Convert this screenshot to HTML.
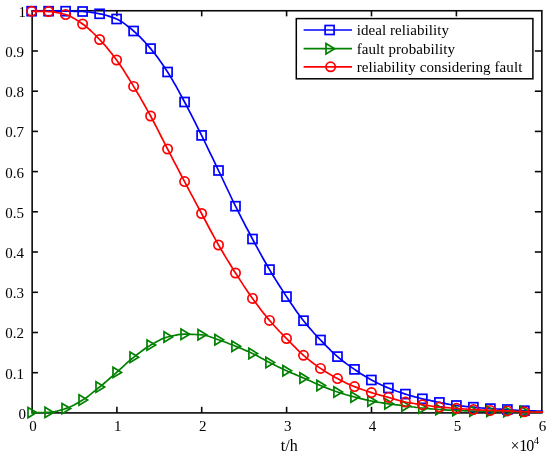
<!DOCTYPE html>
<html><head><meta charset="utf-8"><title>reliability</title>
<style>
html,body{margin:0;padding:0;background:#fff;}
svg{display:block;}
text{font-family:"Liberation Serif","Times New Roman",serif;fill:#000;}
.tk{font-size:15px;}
.lb{font-size:16px;}
</style></head><body>
<svg width="550" height="456" viewBox="0 0 550 456">
<rect x="0" y="0" width="550" height="456" fill="#fff"/>

<g stroke="#0a0a0a" stroke-width="1.6" fill="none" stroke-linecap="butt">
<rect x="32.15" y="10.75" width="509.70" height="402.15"/>
<path d="M116.9,412.9 V406.79999999999995"/><path d="M116.9,10.75 V16.35"/>
<path d="M201.7,412.9 V406.79999999999995"/><path d="M201.7,10.75 V16.35"/>
<path d="M286.6,412.9 V406.79999999999995"/><path d="M286.6,10.75 V16.35"/>
<path d="M371.5,412.9 V406.79999999999995"/><path d="M371.5,10.75 V16.35"/>
<path d="M456.4,412.9 V406.79999999999995"/><path d="M456.4,10.75 V16.35"/>
<path d="M32.15,372.7 H37.949999999999996"/><path d="M541.85,372.7 H534.85"/>
<path d="M32.15,332.5 H37.949999999999996"/><path d="M541.85,332.5 H534.85"/>
<path d="M32.15,292.3 H37.949999999999996"/><path d="M541.85,292.3 H534.85"/>
<path d="M32.15,252.0 H37.949999999999996"/><path d="M541.85,252.0 H534.85"/>
<path d="M32.15,211.8 H37.949999999999996"/><path d="M541.85,211.8 H534.85"/>
<path d="M32.15,171.6 H37.949999999999996"/><path d="M541.85,171.6 H534.85"/>
<path d="M32.15,131.4 H37.949999999999996"/><path d="M541.85,131.4 H534.85"/>
<path d="M32.15,91.2 H37.949999999999996"/><path d="M541.85,91.2 H534.85"/>
<path d="M32.15,51.0 H37.949999999999996"/><path d="M541.85,51.0 H534.85"/>
</g>
<text class="tk" x="32.9" y="430.6" text-anchor="middle">0</text>
<text class="tk" x="117.8" y="430.6" text-anchor="middle">1</text>
<text class="tk" x="202.8" y="430.6" text-anchor="middle">2</text>
<text class="tk" x="287.7" y="430.6" text-anchor="middle">3</text>
<text class="tk" x="372.6" y="430.6" text-anchor="middle">4</text>
<text class="tk" x="457.6" y="430.6" text-anchor="middle">5</text>
<text class="tk" x="542.6" y="430.6" text-anchor="middle">6</text>
<text class="tk" x="25.9" y="418.8" text-anchor="end">0</text>
<text class="tk" x="24" y="378.6" text-anchor="end">0.1</text>
<text class="tk" x="24" y="338.4" text-anchor="end">0.2</text>
<text class="tk" x="24" y="298.2" text-anchor="end">0.3</text>
<text class="tk" x="24" y="257.9" text-anchor="end">0.4</text>
<text class="tk" x="24" y="217.7" text-anchor="end">0.5</text>
<text class="tk" x="24" y="177.5" text-anchor="end">0.6</text>
<text class="tk" x="24" y="137.3" text-anchor="end">0.7</text>
<text class="tk" x="24" y="97.1" text-anchor="end">0.8</text>
<text class="tk" x="24" y="56.9" text-anchor="end">0.9</text>
<text class="tk" x="25.9" y="16.6" text-anchor="end">1</text>
<text class="lb" x="289.2" y="450.6" text-anchor="middle">t/h</text>
<text class="lb" x="510.5" y="450.6">×</text><text class="lb" x="519.3" y="450.6" textLength="15" lengthAdjust="spacing">10</text>
<text x="533.8" y="444.3" font-size="10.5px">4</text>
<g stroke="#0000ff" stroke-width="1.7" fill="none" stroke-linejoin="miter">
<path d="M31.6,11.2 L33.8,11.2 L35.9,11.2 L38.0,11.2 L40.1,11.2 L42.3,11.2 L44.4,11.2 L46.5,11.2 L48.6,11.2 L50.8,11.2 L52.9,11.2 L55.0,11.2 L57.1,11.2 L59.3,11.2 L61.4,11.2 L63.5,11.2 L65.6,11.2 L67.8,11.2 L69.9,11.2 L72.0,11.2 L74.1,11.3 L76.2,11.3 L78.4,11.4 L80.5,11.4 L82.6,11.5 L84.7,11.6 L86.9,11.8 L89.0,12.0 L91.1,12.3 L93.2,12.7 L95.4,13.0 L97.5,13.4 L99.6,13.8 L101.7,14.2 L103.9,14.7 L106.0,15.3 L108.1,15.9 L110.2,16.6 L112.4,17.3 L114.5,18.1 L116.6,19.0 L118.7,20.0 L120.8,21.2 L123.0,22.6 L125.1,24.1 L127.2,25.8 L129.3,27.5 L131.5,29.2 L133.6,31.0 L135.7,32.8 L137.8,34.8 L140.0,36.9 L142.1,39.1 L144.2,41.3 L146.3,43.7 L148.5,46.1 L150.6,48.6 L152.7,51.2 L154.8,53.8 L157.0,56.6 L159.1,59.5 L161.2,62.5 L163.3,65.6 L165.4,68.8 L167.6,72.0 L169.7,75.4 L171.8,78.9 L173.9,82.6 L176.1,86.3 L178.2,90.2 L180.3,94.1 L182.4,98.0 L184.6,102.0 L186.7,106.0 L188.8,110.1 L190.9,114.2 L193.1,118.4 L195.2,122.6 L197.3,126.8 L199.4,131.1 L201.6,135.4 L203.7,139.7 L205.8,144.0 L207.9,148.4 L210.0,152.8 L212.2,157.2 L214.3,161.6 L216.4,166.1 L218.5,170.5 L220.7,175.0 L222.8,179.5 L224.9,184.0 L227.0,188.5 L229.2,193.0 L231.3,197.5 L233.4,201.9 L235.5,206.2 L237.7,210.4 L239.8,214.6 L241.9,218.8 L244.0,222.9 L246.1,227.0 L248.3,231.0 L250.4,235.0 L252.5,239.0 L254.6,243.0 L256.8,246.9 L258.9,250.8 L261.0,254.7 L263.1,258.5 L265.3,262.3 L267.4,266.0 L269.5,269.6 L271.6,273.2 L273.8,276.7 L275.9,280.1 L278.0,283.5 L280.1,286.8 L282.3,290.1 L284.4,293.4 L286.5,296.6 L288.6,299.8 L290.7,302.9 L292.9,306.1 L295.0,309.2 L297.1,312.2 L299.2,315.1 L301.4,318.0 L303.5,320.7 L305.6,323.3 L307.7,325.9 L309.9,328.4 L312.0,330.8 L314.1,333.2 L316.2,335.5 L318.4,337.8 L320.5,340.0 L322.6,342.2 L324.7,344.4 L326.9,346.6 L329.0,348.7 L331.1,350.8 L333.2,352.8 L335.3,354.7 L337.5,356.6 L339.6,358.4 L341.7,360.1 L343.8,361.7 L346.0,363.4 L348.1,364.9 L350.2,366.4 L352.3,367.9 L354.5,369.4 L356.6,370.8 L358.7,372.3 L360.8,373.7 L363.0,375.0 L365.1,376.3 L367.2,377.6 L369.3,378.8 L371.4,380.0 L373.6,381.1 L375.7,382.2 L377.8,383.3 L379.9,384.3 L382.1,385.3 L384.2,386.2 L386.3,387.1 L388.4,388.0 L390.6,388.9 L392.7,389.7 L394.8,390.5 L396.9,391.3 L399.1,392.0 L401.2,392.7 L403.3,393.4 L405.4,394.1 L407.6,394.8 L409.7,395.4 L411.8,396.0 L413.9,396.6 L416.0,397.2 L418.2,397.7 L420.3,398.3 L422.4,398.8 L424.5,399.3 L426.7,399.8 L428.8,400.2 L430.9,400.7 L433.0,401.1 L435.2,401.6 L437.3,402.0 L439.4,402.4 L441.5,402.8 L443.7,403.2 L445.8,403.7 L447.9,404.1 L450.0,404.5 L452.2,404.9 L454.3,405.2 L456.4,405.5 L458.5,405.8 L460.6,406.0 L462.8,406.2 L464.9,406.4 L467.0,406.6 L469.1,406.8 L471.3,407.0 L473.4,407.2 L475.5,407.4 L477.6,407.6 L479.8,407.8 L481.9,408.0 L484.0,408.1 L486.1,408.3 L488.3,408.5 L490.4,408.6 L492.5,408.7 L494.6,408.8 L496.8,409.0 L498.9,409.1 L501.0,409.2 L503.1,409.3 L505.2,409.4 L507.4,409.5 L509.5,409.6 L511.6,409.8 L513.7,410.0 L515.9,410.2 L518.0,410.3 L520.1,410.5 L522.2,410.6 L524.4,410.7 L526.5,410.8 L528.6,410.8 L530.7,410.9 L532.9,410.9 L535.0,410.9 L537.1,411.0 L539.2,411.0 L541.4,411.0 L543.1,411.0" stroke-linejoin="round"/>
<rect x="27.1" y="6.7" width="9.0" height="9.0"/>
<rect x="44.1" y="6.7" width="9.0" height="9.0"/>
<rect x="61.1" y="6.7" width="9.0" height="9.0"/>
<rect x="78.1" y="7.0" width="9.0" height="9.0"/>
<rect x="95.1" y="9.3" width="9.0" height="9.0"/>
<rect x="112.1" y="14.5" width="9.0" height="9.0"/>
<rect x="129.1" y="26.5" width="9.0" height="9.0"/>
<rect x="146.1" y="44.1" width="9.0" height="9.0"/>
<rect x="163.1" y="67.5" width="9.0" height="9.0"/>
<rect x="180.1" y="97.5" width="9.0" height="9.0"/>
<rect x="197.1" y="130.9" width="9.0" height="9.0"/>
<rect x="214.0" y="166.0" width="9.0" height="9.0"/>
<rect x="231.0" y="201.7" width="9.0" height="9.0"/>
<rect x="248.0" y="234.5" width="9.0" height="9.0"/>
<rect x="265.0" y="265.1" width="9.0" height="9.0"/>
<rect x="282.0" y="292.1" width="9.0" height="9.0"/>
<rect x="299.0" y="316.2" width="9.0" height="9.0"/>
<rect x="316.0" y="335.5" width="9.0" height="9.0"/>
<rect x="333.0" y="352.1" width="9.0" height="9.0"/>
<rect x="350.0" y="364.9" width="9.0" height="9.0"/>
<rect x="366.9" y="375.5" width="9.0" height="9.0"/>
<rect x="383.9" y="383.5" width="9.0" height="9.0"/>
<rect x="400.9" y="389.6" width="9.0" height="9.0"/>
<rect x="417.9" y="394.3" width="9.0" height="9.0"/>
<rect x="434.9" y="397.9" width="9.0" height="9.0"/>
<rect x="451.9" y="401.0" width="9.0" height="9.0"/>
<rect x="468.9" y="402.7" width="9.0" height="9.0"/>
<rect x="485.9" y="404.1" width="9.0" height="9.0"/>
<rect x="502.9" y="405.0" width="9.0" height="9.0"/>
<rect x="519.9" y="406.2" width="9.0" height="9.0"/>
</g>
<g stroke="#008000" stroke-width="1.7" fill="none" stroke-linejoin="miter">
<path d="M31.6,412.6 L33.8,412.6 L35.9,412.6 L38.0,412.6 L40.1,412.5 L42.3,412.5 L44.4,412.5 L46.5,412.4 L48.6,412.4 L50.8,412.3 L52.9,412.0 L55.0,411.6 L57.1,411.1 L59.3,410.5 L61.4,409.9 L63.5,409.3 L65.6,408.6 L67.8,407.9 L69.9,407.0 L72.0,406.0 L74.1,404.9 L76.2,403.8 L78.4,402.6 L80.5,401.3 L82.6,400.0 L84.7,398.6 L86.9,397.2 L89.0,395.6 L91.1,393.9 L93.2,392.2 L95.4,390.5 L97.5,388.7 L99.6,387.0 L101.7,385.3 L103.9,383.5 L106.0,381.7 L108.1,379.8 L110.2,378.0 L112.4,376.1 L114.5,374.3 L116.6,372.4 L118.7,370.5 L120.8,368.6 L123.0,366.6 L125.1,364.7 L127.2,362.7 L129.3,360.9 L131.5,359.0 L133.6,357.3 L135.7,355.6 L137.8,354.0 L140.0,352.3 L142.1,350.7 L144.2,349.2 L146.3,347.7 L148.5,346.4 L150.6,345.1 L152.7,343.9 L154.8,342.7 L157.0,341.5 L159.1,340.4 L161.2,339.3 L163.3,338.4 L165.4,337.6 L167.6,337.0 L169.7,336.5 L171.8,336.0 L173.9,335.5 L176.1,335.1 L178.2,334.7 L180.3,334.4 L182.4,334.3 L184.6,334.2 L186.7,334.2 L188.8,334.2 L190.9,334.3 L193.1,334.4 L195.2,334.5 L197.3,334.6 L199.4,334.7 L201.6,334.8 L203.7,335.0 L205.8,335.5 L207.9,336.0 L210.0,336.7 L212.2,337.5 L214.3,338.3 L216.4,339.1 L218.5,339.8 L220.7,340.5 L222.8,341.3 L224.9,342.0 L227.0,342.8 L229.2,343.7 L231.3,344.5 L233.4,345.3 L235.5,346.2 L237.7,347.1 L239.8,347.9 L241.9,348.8 L244.0,349.7 L246.1,350.6 L248.3,351.5 L250.4,352.5 L252.5,353.5 L254.6,354.5 L256.8,355.6 L258.9,356.8 L261.0,357.9 L263.1,359.1 L265.3,360.3 L267.4,361.4 L269.5,362.5 L271.6,363.6 L273.8,364.6 L275.9,365.7 L278.0,366.7 L280.1,367.7 L282.3,368.7 L284.4,369.7 L286.5,370.7 L288.6,371.7 L290.7,372.6 L292.9,373.5 L295.0,374.4 L297.1,375.3 L299.2,376.2 L301.4,377.1 L303.5,378.0 L305.6,378.9 L307.7,379.9 L309.9,380.8 L312.0,381.8 L314.1,382.8 L316.2,383.7 L318.4,384.6 L320.5,385.5 L322.6,386.4 L324.7,387.2 L326.9,388.1 L329.0,388.9 L331.1,389.7 L333.2,390.5 L335.3,391.3 L337.5,392.0 L339.6,392.7 L341.7,393.4 L343.8,394.0 L346.0,394.7 L348.1,395.3 L350.2,395.9 L352.3,396.4 L354.5,397.0 L356.6,397.6 L358.7,398.1 L360.8,398.6 L363.0,399.1 L365.1,399.6 L367.2,400.1 L369.3,400.6 L371.4,401.0 L373.6,401.4 L375.7,401.8 L377.8,402.2 L379.9,402.5 L382.1,402.8 L384.2,403.2 L386.3,403.5 L388.4,403.8 L390.6,404.1 L392.7,404.4 L394.8,404.7 L396.9,404.9 L399.1,405.2 L401.2,405.5 L403.3,405.7 L405.4,406.0 L407.6,406.3 L409.7,406.5 L411.8,406.8 L413.9,407.0 L416.0,407.3 L418.2,407.5 L420.3,407.8 L422.4,408.0 L424.5,408.2 L426.7,408.4 L428.8,408.6 L430.9,408.8 L433.0,409.0 L435.2,409.2 L437.3,409.3 L439.4,409.5 L441.5,409.6 L443.7,409.8 L445.8,409.9 L447.9,410.1 L450.0,410.2 L452.2,410.3 L454.3,410.4 L456.4,410.5 L458.5,410.6 L460.6,410.7 L462.8,410.7 L464.9,410.8 L467.0,410.8 L469.1,410.9 L471.3,411.0 L473.4,411.0 L475.5,411.0 L477.6,411.1 L479.8,411.1 L481.9,411.2 L484.0,411.2 L486.1,411.2 L488.3,411.3 L490.4,411.3 L492.5,411.3 L494.6,411.4 L496.8,411.4 L498.9,411.4 L501.0,411.4 L503.1,411.5 L505.2,411.5 L507.4,411.5 L509.5,411.5 L511.6,411.5 L513.7,411.6 L515.9,411.6 L518.0,411.6 L520.1,411.6 L522.2,411.7 L524.4,411.7 L526.5,411.7 L528.6,411.8 L530.7,411.8 L532.9,411.9 L535.0,412.0 L537.1,412.0 L539.2,412.1 L541.4,412.2 L543.1,412.2" stroke-linejoin="round"/>
<path d="M28.0,407.4 L36.6,412.6 L28.0,417.8 Z"/>
<path d="M45.0,407.2 L53.6,412.4 L45.0,417.6 Z"/>
<path d="M62.0,403.4 L70.6,408.6 L62.0,413.8 Z"/>
<path d="M79.0,394.8 L87.6,400.0 L79.0,405.2 Z"/>
<path d="M96.0,381.8 L104.6,387.0 L96.0,392.2 Z"/>
<path d="M113.0,367.2 L121.6,372.4 L113.0,377.6 Z"/>
<path d="M130.0,352.1 L138.6,357.3 L130.0,362.5 Z"/>
<path d="M147.0,339.9 L155.6,345.1 L147.0,350.3 Z"/>
<path d="M164.0,331.8 L172.6,337.0 L164.0,342.2 Z"/>
<path d="M181.0,329.0 L189.6,334.2 L181.0,339.4 Z"/>
<path d="M198.0,329.6 L206.6,334.8 L198.0,340.0 Z"/>
<path d="M214.9,334.6 L223.5,339.8 L214.9,345.0 Z"/>
<path d="M231.9,341.0 L240.5,346.2 L231.9,351.4 Z"/>
<path d="M248.9,348.3 L257.5,353.5 L248.9,358.7 Z"/>
<path d="M265.9,357.3 L274.5,362.5 L265.9,367.7 Z"/>
<path d="M282.9,365.5 L291.5,370.7 L282.9,375.9 Z"/>
<path d="M299.9,372.8 L308.5,378.0 L299.9,383.2 Z"/>
<path d="M316.9,380.3 L325.5,385.5 L316.9,390.7 Z"/>
<path d="M333.9,386.8 L342.5,392.0 L333.9,397.2 Z"/>
<path d="M350.9,391.8 L359.5,397.0 L350.9,402.2 Z"/>
<path d="M367.8,395.8 L376.4,401.0 L367.8,406.2 Z"/>
<path d="M384.8,398.6 L393.4,403.8 L384.8,409.0 Z"/>
<path d="M401.8,400.8 L410.4,406.0 L401.8,411.2 Z"/>
<path d="M418.8,402.8 L427.4,408.0 L418.8,413.2 Z"/>
<path d="M435.8,404.3 L444.4,409.5 L435.8,414.7 Z"/>
<path d="M452.8,405.3 L461.4,410.5 L452.8,415.7 Z"/>
<path d="M469.8,405.8 L478.4,411.0 L469.8,416.2 Z"/>
<path d="M486.8,406.1 L495.4,411.3 L486.8,416.5 Z"/>
<path d="M503.8,406.3 L512.4,411.5 L503.8,416.7 Z"/>
<path d="M520.8,406.5 L529.4,411.7 L520.8,416.9 Z"/>
</g>
<g stroke="#ff0000" stroke-width="1.7" fill="none" stroke-linejoin="miter">
<path d="M31.6,11.3 L33.8,11.3 L35.9,11.3 L38.0,11.3 L40.1,11.4 L42.3,11.4 L44.4,11.5 L46.5,11.5 L48.6,11.6 L50.8,11.7 L52.9,11.9 L55.0,12.2 L57.1,12.6 L59.3,13.0 L61.4,13.5 L63.5,14.0 L65.6,14.6 L67.8,15.3 L69.9,16.2 L72.0,17.2 L74.1,18.4 L76.2,19.7 L78.4,21.1 L80.5,22.5 L82.6,24.0 L84.7,25.5 L86.9,27.2 L89.0,29.1 L91.1,31.0 L93.2,33.0 L95.4,35.1 L97.5,37.3 L99.6,39.5 L101.7,41.8 L103.9,44.1 L106.0,46.5 L108.1,49.1 L110.2,51.7 L112.4,54.4 L114.5,57.2 L116.6,60.0 L118.7,63.0 L120.8,66.1 L123.0,69.3 L125.1,72.6 L127.2,76.0 L129.3,79.4 L131.5,82.9 L133.6,86.4 L135.7,89.9 L137.8,93.5 L140.0,97.1 L142.1,100.8 L144.2,104.5 L146.3,108.3 L148.5,112.1 L150.6,116.0 L152.7,120.0 L154.8,124.0 L157.0,128.1 L159.1,132.3 L161.2,136.5 L163.3,140.7 L165.4,144.9 L167.6,149.0 L169.7,153.1 L171.8,157.2 L173.9,161.3 L176.1,165.4 L178.2,169.4 L180.3,173.5 L182.4,177.6 L184.6,181.6 L186.7,185.6 L188.8,189.6 L190.9,193.6 L193.1,197.6 L195.2,201.6 L197.3,205.6 L199.4,209.5 L201.6,213.5 L203.7,217.5 L205.8,221.5 L207.9,225.5 L210.0,229.5 L212.2,233.5 L214.3,237.4 L216.4,241.2 L218.5,245.0 L220.7,248.7 L222.8,252.3 L224.9,255.9 L227.0,259.4 L229.2,262.8 L231.3,266.3 L233.4,269.7 L235.5,273.0 L237.7,276.3 L239.8,279.6 L241.9,282.9 L244.0,286.1 L246.1,289.3 L248.3,292.4 L250.4,295.4 L252.5,298.4 L254.6,301.3 L256.8,304.2 L258.9,307.1 L261.0,309.9 L263.1,312.6 L265.3,315.3 L267.4,317.9 L269.5,320.4 L271.6,322.8 L273.8,325.2 L275.9,327.5 L278.0,329.8 L280.1,332.0 L282.3,334.2 L284.4,336.3 L286.5,338.5 L288.6,340.7 L290.7,342.9 L292.9,345.1 L295.0,347.2 L297.1,349.4 L299.2,351.4 L301.4,353.4 L303.5,355.3 L305.6,357.1 L307.7,358.9 L309.9,360.6 L312.0,362.3 L314.1,363.9 L316.2,365.4 L318.4,366.9 L320.5,368.4 L322.6,369.8 L324.7,371.2 L326.9,372.5 L329.0,373.8 L331.1,375.1 L333.2,376.3 L335.3,377.5 L337.5,378.6 L339.6,379.7 L341.7,380.8 L343.8,381.8 L346.0,382.9 L348.1,383.9 L350.2,384.8 L352.3,385.7 L354.5,386.6 L356.6,387.4 L358.7,388.3 L360.8,389.0 L363.0,389.8 L365.1,390.5 L367.2,391.2 L369.3,391.9 L371.4,392.6 L373.6,393.3 L375.7,393.9 L377.8,394.5 L379.9,395.1 L382.1,395.7 L384.2,396.2 L386.3,396.8 L388.4,397.4 L390.6,398.0 L392.7,398.6 L394.8,399.3 L396.9,399.9 L399.1,400.5 L401.2,401.1 L403.3,401.6 L405.4,402.1 L407.6,402.5 L409.7,402.9 L411.8,403.2 L413.9,403.5 L416.0,403.8 L418.2,404.1 L420.3,404.4 L422.4,404.7 L424.5,405.0 L426.7,405.4 L428.8,405.7 L430.9,406.0 L433.0,406.3 L435.2,406.6 L437.3,406.9 L439.4,407.1 L441.5,407.3 L443.7,407.5 L445.8,407.6 L447.9,407.7 L450.0,407.9 L452.2,408.0 L454.3,408.2 L456.4,408.3 L458.5,408.5 L460.6,408.6 L462.8,408.8 L464.9,409.0 L467.0,409.2 L469.1,409.3 L471.3,409.5 L473.4,409.6 L475.5,409.7 L477.6,409.8 L479.8,409.9 L481.9,410.0 L484.0,410.1 L486.1,410.2 L488.3,410.3 L490.4,410.4 L492.5,410.5 L494.6,410.5 L496.8,410.6 L498.9,410.6 L501.0,410.7 L503.1,410.8 L505.2,410.8 L507.4,410.9 L509.5,411.0 L511.6,411.1 L513.7,411.2 L515.9,411.4 L518.0,411.5 L520.1,411.6 L522.2,411.7 L524.4,411.8 L526.5,411.9 L528.6,411.9 L530.7,412.0 L532.9,412.0 L535.0,412.0 L537.1,412.1 L539.2,412.1 L541.4,412.1 L543.1,412.1" stroke-linejoin="round"/>
<circle cx="31.6" cy="11.3" r="4.65"/>
<circle cx="48.6" cy="11.6" r="4.65"/>
<circle cx="65.6" cy="14.6" r="4.65"/>
<circle cx="82.6" cy="24.0" r="4.65"/>
<circle cx="99.6" cy="39.5" r="4.65"/>
<circle cx="116.6" cy="60.0" r="4.65"/>
<circle cx="133.6" cy="86.4" r="4.65"/>
<circle cx="150.6" cy="116.0" r="4.65"/>
<circle cx="167.6" cy="149.0" r="4.65"/>
<circle cx="184.6" cy="181.6" r="4.65"/>
<circle cx="201.6" cy="213.5" r="4.65"/>
<circle cx="218.5" cy="245.0" r="4.65"/>
<circle cx="235.5" cy="273.0" r="4.65"/>
<circle cx="252.5" cy="298.4" r="4.65"/>
<circle cx="269.5" cy="320.4" r="4.65"/>
<circle cx="286.5" cy="338.5" r="4.65"/>
<circle cx="303.5" cy="355.3" r="4.65"/>
<circle cx="320.5" cy="368.4" r="4.65"/>
<circle cx="337.5" cy="378.6" r="4.65"/>
<circle cx="354.5" cy="386.6" r="4.65"/>
<circle cx="371.4" cy="392.6" r="4.65"/>
<circle cx="388.4" cy="397.4" r="4.65"/>
<circle cx="405.4" cy="402.1" r="4.65"/>
<circle cx="422.4" cy="404.7" r="4.65"/>
<circle cx="439.4" cy="407.1" r="4.65"/>
<circle cx="456.4" cy="408.3" r="4.65"/>
<circle cx="473.4" cy="409.6" r="4.65"/>
<circle cx="490.4" cy="410.4" r="4.65"/>
<circle cx="507.4" cy="410.9" r="4.65"/>
<circle cx="524.4" cy="411.8" r="4.65"/>
</g>
<rect x="296.3" y="18.6" width="236.6" height="60.2" fill="#fff" stroke="#000" stroke-width="1.5"/>
<g stroke="#0000ff" stroke-width="1.7" fill="none">
<path d="M303.6,30.0 H352"/>
<rect x="325.1" y="25.5" width="9" height="9"/>
</g>
<text class="tk" x="356.7" y="34.6" textLength="92.2" lengthAdjust="spacing">ideal reliability</text>
<g stroke="#008000" stroke-width="1.7" fill="none">
<path d="M303.6,48.7 H352"/>
<path d="M326.0,43.5 L334.6,48.7 L326.0,53.9 Z"/>
</g>
<text class="tk" x="356.7" y="53.7" textLength="98.4" lengthAdjust="spacing">fault probability</text>
<g stroke="#ff0000" stroke-width="1.7" fill="none">
<path d="M303.6,66.8 H352"/>
<circle cx="330.6" cy="66.8" r="4.65"/>
</g>
<text class="tk" x="356.7" y="72.0" textLength="165.6" lengthAdjust="spacing">reliability considering fault</text>
</svg></body></html>
